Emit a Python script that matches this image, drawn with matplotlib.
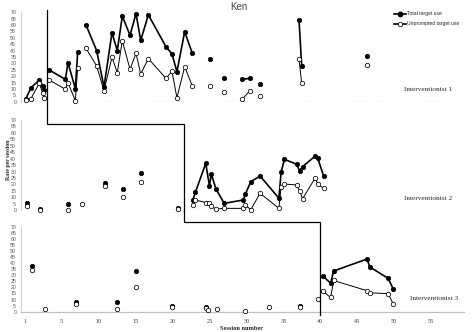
import numpy as np
import matplotlib
matplotlib.use('Agg')
import matplotlib.pyplot as plt
from matplotlib.lines import Line2D

nan = np.nan

# ---------------- data (NaN separates unconnected segments) ----------------
p1_sessions = [0.13, 0.85, 1.98, 2.45, 2.66, nan, 3.33, 5.5, 5.86, 6.85, 7.17, nan,
               8.3, 9.74, 10.73, 11.81, 12.53, 13.21, 14.25, 15.06, 15.7, 16.73, 19.12,
               19.93, 20.6, 21.65, 22.68, nan, 25.1, nan, 26.97, nan, 29.45, 30.49, nan,
               31.84, nan, 37.12, 37.48, nan, 46.28]
p1_total = [2, 11, 17, 12.5, 9, nan, 24.8, 17.5, 30.5, 10.2, 38.7, nan,
            60, 40, 11.5, 54, 40, 67, 52, 69, 48, 68, 43,
            37.4, 23.5, 54.8, 37.9, nan, 33.7, nan, 18.3, nan, 17.5, 18.3, nan,
            13.6, nan, 64, 28.2, nan, 35.8]
p1_unprompted = [1, 2.5, 14.4, 6.5, 3.2, nan, 17, 9.7, 14.9, 0.8, 26.6, nan,
                 41.8, 28, 8.6, 34.8, 22.7, 47.8, 25.4, 37.9, 21.7, 33.7, 18.3,
                 23.8, 3.1, 27.4, 12.3, nan, 12.3, nan, 7.6, nan, 2.1, 8.6, nan,
                 4.5, nan, 33.4, 14.4, nan, 28.7]

p2_sessions = [0.27, nan, 2.07, nan, 5.9, nan, 7.7, nan, 10.9, nan, 13.35, nan, 15.78, nan,
               20.7, nan, 22.75, 23.1, 24.5, 25.0, 25.25, 25.9, 27.0, 29.6, 29.85, 30.6,
               31.85, 34.4, 34.7, 35.15, 36.8, 37.2, 37.6, 39.3, 39.65, 40.45]
p2_total = [5.9, nan, 1, nan, 4.9, nan, nan, nan, 21.4, nan, 16.3, nan, 28.7, nan,
            2, nan, 8, 14, 36.4, 19, 28, 16.3, 5.4, 8, 12.4, 22.2,
            26.6, 9.3, 29.7, 39.5, 35.7, 30.7, 33.8, 42, 40.5, 26.5]
p2_unprompted = [3.6, nan, 0, nan, 0, nan, 4.6, nan, 18.8, nan, 10, nan, 22.2, nan,
                 1, nan, 4, 8, 6, 5.5, 3, 1, 1.5, 1.5, 4, 0.5,
                 13.2, 1.5, 18.3, 20.4, 19.6, 15.2, 9, 25, 20.4, 17]

p3_sessions = [0.95, nan, 2.7, nan, 6.94, nan, 12.53, nan, 15.0, nan, 19.97, nan, 24.5, nan,
               24.85, nan, 26.0, nan, 29.8, nan, 33.1, nan, 37.2, nan, 39.65, nan,
               40.35, 41.4, 41.8, 46.32, 46.7, 49.18, 49.88]
p3_total = [37.6, nan, nan, nan, 7.7, nan, 7.7, nan, 33.5, nan, 5, nan, 3.9, nan,
            nan, nan, nan, nan, nan, nan, nan, nan, 5, nan, nan, nan,
            29.5, 23.4, 33.5, 43.4, 36.8, 27.5, 18.6]
p3_unprompted = [34.3, nan, 2.5, nan, 6.1, nan, 2, nan, 20.6, nan, 3.9, nan, 2.8, nan,
                 1.7, nan, 2.5, nan, 0.6, nan, 3.9, nan, 3.9, nan, 10.5, nan,
                 16.8, 11.7, 25.7, 17.3, 15.5, 14.9, 6.2]

phase_changes = [3.0, 21.6, 40.0]
panel_labels = ['Interventionist 1', 'Interventionist 2', 'Interventionist 3']
series_labels = ['Total target use', 'Unprompted target use']
y_ticks = list(range(0, 75, 5))
x_ticks = list(range(0, 60, 5))
x_tick_labels = ['1', '5', '10', '15', '20', '25', '30', '35', '40', '45', '50', '55']
title = 'Ken'
xlabel = 'Session number'
ylabel = 'Rate per session'

# ---------------- figure ----------------
W, H = 474, 332
fig = plt.figure(figsize=(W / 100, H / 100), dpi=100)

def px_axes(left, top, right, bottom):
    return fig.add_axes([left / W, 1 - bottom / H, (right - left) / W, (bottom - top) / H])

ax1 = px_axes(21, 12.3, 464.4, 101.7)
ax2 = px_axes(21, 120, 464.4, 210.3)
ax3 = px_axes(21, 226.7, 464.4, 311.7)
axes = [ax1, ax2, ax3]
panels = [(p1_sessions, p1_total, p1_unprompted),
          (p2_sessions, p2_total, p2_unprompted),
          (p3_sessions, p3_total, p3_unprompted)]
label_pos = [(57.8, 9.2), (57.8, 8.8), (58.6, 10.5)]

sans = ['Liberation Sans', 'DejaVu Sans']
serif = ['Liberation Serif', 'DejaVu Serif']

for i, (ax, (s, tot, unp)) in enumerate(zip(axes, panels)):
    ax.set_xlim(-0.5, 59.5)
    ax.set_ylim(0, 70)
    for side in ['top', 'right']:
        ax.spines[side].set_visible(False)
    ax.spines['left'].set_color('#d0d0d0')
    ax.spines['left'].set_linewidth(0.8)
    ax.set_yticks(y_ticks)
    ax.set_yticklabels([str(t) for t in y_ticks], family=sans, fontsize=3.8, color='#595959')
    ax.tick_params(axis='y', length=0, pad=3.4)
    if i < 2:
        ax.spines['bottom'].set_visible(False)
        ax.axhline(0, color='#bdbdbd', lw=1.0, ls=(0, (1, 1)), zorder=1)
        ax.set_xticks([])
    else:
        ax.spines['bottom'].set_color('#c0c0c0')
        ax.spines['bottom'].set_linewidth(0.9)
        ax.set_xticks(x_ticks)
        ax.set_xticklabels(x_tick_labels, family=serif, fontsize=4.5, color='#404040')
        ax.tick_params(axis='x', length=0, pad=5.5)
    ax.plot(s, tot, color='black', lw=1.2, marker='o', ms=3.2, mfc='black',
            mec='black', mew=0.5, clip_on=False, zorder=3)
    ax.plot(s, unp, color='black', lw=0.7, marker='o', ms=3.2, mfc='white',
            mec='black', mew=0.55, clip_on=False, zorder=4)
    lx, ly = label_pos[i]
    ax.text(lx, ly, panel_labels[i], ha='right', va='center', family=serif,
            fontsize=5.2, color='#262626')

# phase change line spanning panels
def to_fig(ax, x, y):
    return fig.transFigure.inverted().transform(ax.transData.transform((x, y)))

pts = [to_fig(ax1, phase_changes[0], 71.8),
       to_fig(ax2, phase_changes[0], 66.9),
       to_fig(ax2, phase_changes[1], 66.9),
       to_fig(ax3, phase_changes[1], 73.6),
       to_fig(ax3, phase_changes[2], 73.6),
       to_fig(ax3, phase_changes[2], -2.7)]
xs = [p[0] for p in pts]
ys = [p[1] for p in pts]
fig.add_artist(Line2D(xs, ys, transform=fig.transFigure, color='black', lw=0.9,
                      solid_joinstyle='miter'))

# legend
handles = [Line2D([], [], color='black', lw=1.2, marker='o', ms=3.2, mfc='black', mec='black'),
           Line2D([], [], color='black', lw=1.2, marker='o', ms=3.2, mfc='white', mec='black', mew=0.55)]
leg = fig.legend(handles, series_labels, loc='upper left', bbox_to_anchor=(394 / W, 1 - 11.5 / H),
                 frameon=False, prop={'family': sans, 'size': 3.6}, handlelength=2.4,
                 handletextpad=0.2, labelspacing=1.0, borderpad=0, borderaxespad=0)
for t in leg.get_texts():
    t.set_color('#262626')

fig.text(239 / W, 1 - 6.5 / H, title, ha='center', va='center', family=sans,
         fontsize=7, color='#404040')
fig.text(242 / W, 1 - 328.5 / H, xlabel, ha='center', va='center', family=serif,
         fontsize=4.6, fontweight='bold', color='#262626')
fig.text(8.3 / W, 1 - 160 / H, ylabel, ha='center', va='center', rotation=90,
         family=serif, fontsize=4.2, fontweight='bold', color='#262626')

fig.savefig('out.png', dpi=100)
